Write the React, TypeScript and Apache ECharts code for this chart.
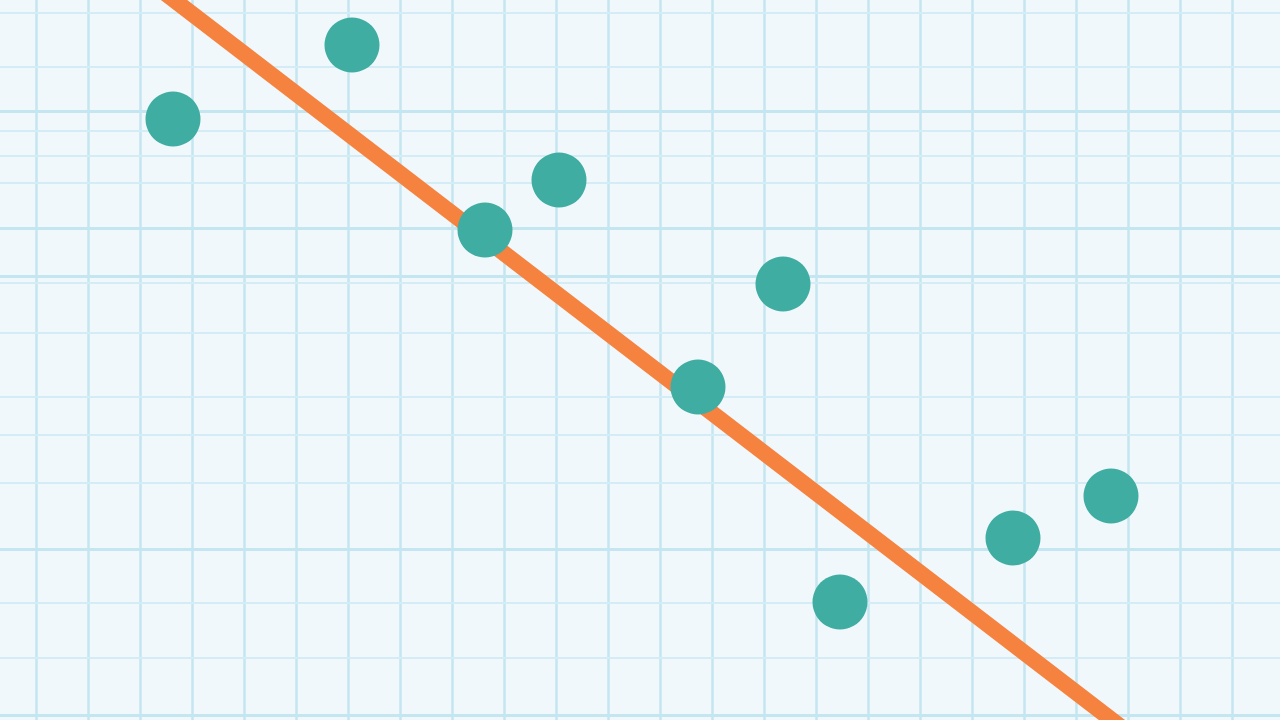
import React, { useEffect, useRef } from "react";
import * as echarts from "echarts";

const pointX = [17.3, 35.2, 48.5, 55.9, 69.8, 78.3, 84.0, 101.3, 111.1];
const pointY = [60.1, 67.5, 49.0, 54.0, 33.3, 43.6, 11.8, 18.2, 22.4];

// Trend line end points (extend past the plot edges, clipped)
const trendX = [14.8, 113.8];
const trendY = [74.0, -2.0];

// Graph-paper rulings
const verticalRulings = [3.6, 8.8, 14.0, 19.2, 24.4, 29.6, 34.8, 40.0, 45.2, 50.4, 55.6, 60.8, 66.0, 71.2, 76.4, 81.6, 86.8, 92.0, 97.2, 102.4, 107.6, 112.8, 118.0, 123.2];
const horizontalMinor = [70.7, 65.3, 58.9, 56.4, 53.7, 43.7, 38.7, 32.3, 28.5, 23.7, 11.7, 6.2];
const horizontalMajor = [60.9, 49.2, 44.4, 17.1, 0.5];

const X_MIN = 0;
const X_MAX = 128;
const Y_MIN = 0;
const Y_MAX = 72;

export default function App() {
  const ref = useRef<HTMLDivElement>(null);

  useEffect(() => {
    if (!ref.current) return;
    const chart = echarts.init(ref.current, undefined, { renderer: "svg" });
    const gridColor = "#c4e6f1";
    chart.setOption({
      animation: false,
      backgroundColor: "#f1f8fc",
      grid: { left: 0, right: 0, top: 0, bottom: 0, containLabel: false },
      xAxis: {
        type: "value",
        min: X_MIN,
        max: X_MAX,
        show: false,
        splitLine: { show: false },
      },
      yAxis: {
        type: "value",
        min: Y_MIN,
        max: Y_MAX,
        show: false,
        splitLine: { show: false },
      },
      series: [
        {
          type: "line",
          data: [],
          silent: true,
          z: 1,
          markLine: {
            silent: true,
            z: 1,
            symbol: ["none", "none"],
            label: { show: false },
            emphasis: { disabled: true },
            animation: false,
            data: [
              ...verticalRulings.map((v) => ({ xAxis: v, lineStyle: { color: gridColor, width: 2.5, type: "solid" } })),
              ...horizontalMinor.map((v) => ({ yAxis: v, lineStyle: { color: "#d3ecf5", width: 2, type: "solid" } })),
              ...horizontalMajor.map((v) => ({ yAxis: v, lineStyle: { color: gridColor, width: 3, type: "solid" } })),
            ],
          },
        },
        {
          type: "line",
          data: trendX.map((x, i) => [x, trendY[i]]),
          symbol: "none",
          clip: true,
          z: 3,
          lineStyle: { color: "#f5823f", width: 16, cap: "butt" },
        },
        {
          type: "scatter",
          data: pointX.map((x, i) => [x, pointY[i]]),
          symbolSize: 55,
          z: 5,
          itemStyle: { color: "#3fada2", opacity: 1 },
        },
      ],
    });
    return () => chart.dispose();
  }, []);

  return (
    <div
      ref={ref}
      style={{ position: "fixed", left: 0, top: 0, width: 1280, height: 720 }}
    />
  );
}
